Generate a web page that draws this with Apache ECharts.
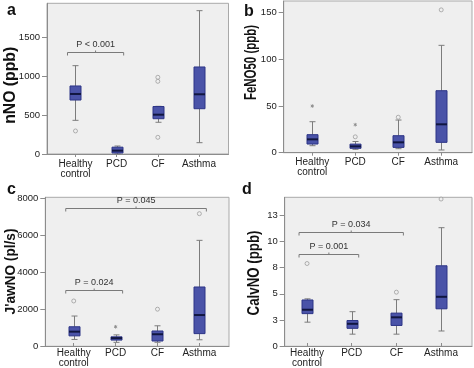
<!DOCTYPE html>
<html><head><meta charset="utf-8">
<script src="https://cdn.jsdelivr.net/npm/echarts@6/dist/echarts.min.js"></script>
<style>html,body{margin:0;padding:0;background:#fff}#c{width:474px;height:368px}</style>
</head><body><div id="c"></div>
<script>
const categories = ['Healthy\ncontrol', 'PCD', 'CF', 'Asthma'];

// box stats per category: [min, q1, median, q3, max]
const nNO_box = [[434, 696, 774, 877, 1139], [0, 13, 43, 88, 103], [409, 455, 507, 612, 615], [146, 584, 770, 1122, 1848]];
const nNO_outliers = [[0, 297], [2, 989], [2, 937], [2, 215]];
const nNO_extremes = [];
const nNO_brackets = [[0, 1, 1319, 'P < 0.001']];
const nNO_ticks = [0, 500, 1000, 1500];
const nNO_tickLabels = ['0', '500', '1000', '1500'];

const FeNO_box = [[7.5, 9.3, 14.3, 19.3, 33.2], [3.6, 4.7, 6.8, 9.2, 12], [4.3, 5.7, 11.1, 18.2, 35], [2.9, 11.1, 30.4, 66.4, 115]];
const FeNO_outliers = [[1, 17], [2, 38], [3, 153]];
const FeNO_extremes = [[0, 50], [1, 30]];
const FeNO_brackets = [];
const FeNO_ticks = [0, 50, 100, 150];
const FeNO_tickLabels = ['0', '50', '100', '150'];

const JawNO_box = [[196, 394, 626, 896, 1489], [36, 162, 270, 340, 448], [40, 110, 483, 663, 950], [178, 518, 1543, 3091, 5664]];
const JawNO_outliers = [[0, 2319], [2, 1866], [3, 7136]];
const JawNO_extremes = [[1, 896]];
const JawNO_brackets = [[0, 3, 7444, 'P = 0.045'], [0, 1, 2913, 'P = 0.024']];
const JawNO_ticks = [0, 2000, 4000, 6000, 8000];
const JawNO_tickLabels = ['0', '2000', '4000', '6000', '8000'];

const CalvNO_box = [[2.03, 2.86, 3.24, 4.19, 4.3], [0.86, 1.43, 1.87, 2.19, 3.05], [0.86, 1.71, 2.5, 2.91, 4.22], [1.17, 3.33, 4.5, 7.52, 11.23]];
const CalvNO_outliers = [[0, 7.74], [2, 4.95], [3, 14.02]];
const CalvNO_extremes = [];
const CalvNO_brackets = [[0, 2, 10.82, 'P = 0.034'], [0, 1, 8.69, 'P = 0.001']];
const CalvNO_ticks = [0, 2.5, 5, 7.5, 10, 12.5];
const CalvNO_tickLabels = ['0', '3', '5', '8', '10', '13'];

const panels = [
  {box: nNO_box, out: nNO_outliers, ext: nNO_extremes, br: nNO_brackets, ticks: nNO_ticks, labels: nNO_tickLabels, max: 1943,
   frame: {left: 47, top: 3.3, width: 181.5, height: 150.7}, band: {left: 54.9, width: 164.7},
   title: 'nNO (ppb)', tx: 10.5, ty: 85.3, tscale: 0.985, letter: 'a', lx: 7, ly: 11},
  {box: FeNO_box, out: FeNO_outliers, ext: FeNO_extremes, br: FeNO_brackets, ticks: FeNO_ticks, labels: FeNO_tickLabels, max: 162.5,
   frame: {left: 283.7, top: 1, width: 188.3, height: 151.7}, band: {left: 290.8, width: 171.9},
   title: 'FeNO50 (ppb)', tx: 252, ty: 62.5, tscale: 0.715, letter: 'b', lx: 244, ly: 12},
  {box: JawNO_box, out: JawNO_outliers, ext: JawNO_extremes, br: JawNO_brackets, ticks: JawNO_ticks, labels: JawNO_tickLabels, max: 8040,
   frame: {left: 45.3, top: 197.3, width: 183.7, height: 149}, band: {left: 52.8, width: 167.5},
   title: "J'awNO (pl/s)", tx: 10.5, ty: 271.5, tscale: 0.91, tsize: 15, letter: 'c', lx: 7, ly: 190},
  {box: CalvNO_box, out: CalvNO_outliers, ext: CalvNO_extremes, br: CalvNO_brackets, ticks: CalvNO_ticks, labels: CalvNO_tickLabels, max: 14.19,
   frame: {left: 284.7, top: 197.3, width: 187.3, height: 149}, band: {left: 284.7, width: 178.7},
   title: 'CalvNO (ppb)', tx: 255, ty: 273, tscale: 0.83, letter: 'd', lx: 242, ly: 190}
];

const FONT = '"Liberation Sans", Arial, sans-serif';
const AXIS_COLOR = '#8c8c8c';
const WHISKER = '#7c7c7c';

function boxRender(params, api) {
  const x = api.value(0);
  const lo = api.coord([x, api.value(1)]);
  const q1 = api.coord([x, api.value(2)]);
  const md = api.coord([x, api.value(3)]);
  const q3 = api.coord([x, api.value(4)]);
  const hi = api.coord([x, api.value(5)]);
  const bw = 11, cw = 6, cx = Math.round(lo[0]) + 0.5;
  const ls = {stroke: WHISKER, lineWidth: 1};
  return {type: 'group', children: [
    {type: 'line', shape: {x1: cx, y1: hi[1], x2: cx, y2: q3[1]}, style: ls},
    {type: 'line', shape: {x1: cx, y1: q1[1], x2: cx, y2: lo[1]}, style: ls},
    {type: 'line', shape: {x1: cx - cw / 2, y1: hi[1], x2: cx + cw / 2, y2: hi[1]}, style: ls},
    {type: 'line', shape: {x1: cx - cw / 2, y1: lo[1], x2: cx + cw / 2, y2: lo[1]}, style: ls},
    {type: 'rect', shape: {x: cx - bw / 2, y: q3[1], width: bw, height: q1[1] - q3[1]},
     style: {fill: '#4a53a8', stroke: '#2c3486', lineWidth: 1}},
    {type: 'line', shape: {x1: cx - bw / 2, y1: md[1], x2: cx + bw / 2, y2: md[1]},
     style: {stroke: '#111640', lineWidth: 2}}
  ]};
}

function starRender(params, api) {
  const c = api.coord([api.value(0), api.value(1)]);
  const r = 1.8;
  const s = {stroke: '#8a8a8a', lineWidth: 0.9};
  return {type: 'group', children: [
    {type: 'line', shape: {x1: c[0], y1: c[1] - r, x2: c[0], y2: c[1] + r}, style: s},
    {type: 'line', shape: {x1: c[0] - r * 0.87, y1: c[1] - r / 2, x2: c[0] + r * 0.87, y2: c[1] + r / 2}, style: s},
    {type: 'line', shape: {x1: c[0] - r * 0.87, y1: c[1] + r / 2, x2: c[0] + r * 0.87, y2: c[1] - r / 2}, style: s}
  ]};
}

function makeBracketRender(list) {
  return function (params, api) {
    const p1 = api.coord([api.value(0), api.value(2)]);
    const p2 = api.coord([api.value(1), api.value(2)]);
    const y = Math.round(p1[1]) + 0.5;
    const x1 = p1[0] - 8, x2 = p2[0] + 7, xm = (x1 + x2) / 2;
    const s = {stroke: '#7a7a7a', lineWidth: 1};
    return {type: 'group', children: [
      {type: 'line', shape: {x1: x1, y1: y, x2: x2, y2: y}, style: s},
      {type: 'line', shape: {x1: x1, y1: y, x2: x1, y2: y + 3}, style: s},
      {type: 'line', shape: {x1: x2, y1: y, x2: x2, y2: y + 3}, style: s},
      {type: 'line', shape: {x1: xm, y1: y, x2: xm, y2: y - 2}, style: s},
      {type: 'text', x: xm, y: y - 3,
       style: {text: list[params.dataIndex][3], fill: '#333', font: '9px ' + FONT, align: 'center', verticalAlign: 'bottom'}}
    ]};
  };
}

const grids = [], xAxes = [], yAxes = [], series = [], graphics = [];
panels.forEach(function (p) {
  const gF = grids.length;
  grids.push({left: p.frame.left, top: p.frame.top, width: p.frame.width, height: p.frame.height,
    show: true, backgroundColor: '#efefef', borderColor: '#a9a9a9', borderWidth: 1});
  grids.push({left: p.band.left, top: p.frame.top, width: p.band.width, height: p.frame.height});
  xAxes.push({type: 'value', gridIndex: gF, min: 0, max: 1,
    axisLine: {show: true, onZero: false, lineStyle: {color: AXIS_COLOR}},
    axisTick: {show: false}, axisLabel: {show: false}, splitLine: {show: false}});
  xAxes.push({type: 'category', gridIndex: gF + 1, data: categories,
    axisLine: {show: false},
    axisTick: {show: true, alignWithLabel: true, length: 3, lineStyle: {color: AXIS_COLOR}},
    axisLabel: {interval: 0, fontSize: 10, lineHeight: 10, color: '#222', margin: 5, fontFamily: FONT},
    splitLine: {show: false}});
  const ticks = p.ticks, labels = p.labels;
  yAxes.push({type: 'value', gridIndex: gF, min: 0, max: p.max,
    axisLine: {show: true, lineStyle: {color: AXIS_COLOR}},
    axisTick: {show: true, length: 5, customValues: ticks, lineStyle: {color: AXIS_COLOR}},
    axisLabel: {customValues: ticks, fontSize: 9.5, color: '#222', margin: 7, fontFamily: FONT,
      formatter: function (v) {
        for (let i = 0; i < ticks.length; i++) if (Math.abs(ticks[i] - v) < 1e-6) return labels[i];
        return '';
      }},
    splitLine: {show: false}});
  yAxes.push({type: 'value', gridIndex: gF + 1, min: 0, max: p.max, show: false});

  series.push({type: 'custom', xAxisIndex: gF + 1, yAxisIndex: gF + 1,
    data: p.box.map(function (b, i) { return [i].concat(b); }),
    encode: {x: 0, y: [1, 2, 3, 4, 5]}, renderItem: boxRender, z: 3});
  series.push({type: 'scatter', xAxisIndex: gF + 1, yAxisIndex: gF + 1, data: p.out,
    symbol: 'circle', symbolSize: 4,
    itemStyle: {color: '#efefef', borderColor: '#8a8a8a', borderWidth: 0.8}, z: 4});
  if (p.ext.length) series.push({type: 'custom', xAxisIndex: gF + 1, yAxisIndex: gF + 1, data: p.ext,
    encode: {x: 0, y: 1}, renderItem: starRender, z: 4});
  if (p.br.length) series.push({type: 'custom', xAxisIndex: gF + 1, yAxisIndex: gF + 1,
    data: p.br.map(function (b) { return [b[0], b[1], b[2]]; }),
    encode: {x: [0, 1], y: 2}, renderItem: makeBracketRender(p.br), z: 5, clip: false});

  graphics.push({type: 'text', x: p.tx, y: p.ty, rotation: Math.PI / 2, scaleX: p.tscale,
    style: {text: p.title, font: 'bold ' + (p.tsize || 16) + 'px ' + FONT, fill: '#111', align: 'center', verticalAlign: 'middle'}});
  graphics.push({type: 'text', x: p.lx, y: p.ly,
    style: {text: p.letter, font: 'bold 16px ' + FONT, fill: '#111', align: 'left', verticalAlign: 'middle'}});
});

const chart = echarts.init(document.getElementById('c'));
chart.setOption({
  animation: false,
  backgroundColor: '#fff',
  grid: grids, xAxis: xAxes, yAxis: yAxes, series: series, graphic: graphics
});
</script>
</body></html>
